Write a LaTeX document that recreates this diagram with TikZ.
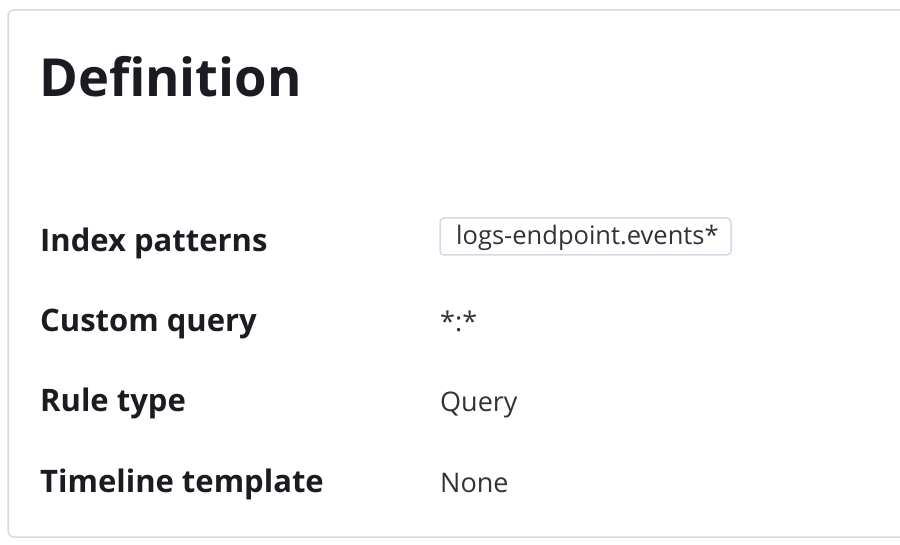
\documentclass[tikz,border=0pt]{standalone}
\usepackage{fontspec}
\setmainfont{Open Sans}
\definecolor{txt}{HTML}{1A1C21}
\definecolor{bord}{HTML}{D3DAE6}
\tikzset{lbl/.style={anchor=base west,inner sep=0pt,font=\fontsize{31}{34}\selectfont\bfseries,text=txt},
val/.style={anchor=base west,inner sep=0pt,font=\fontsize{27}{32}\selectfont,text=txt!90}}
\begin{document}
\begin{tikzpicture}[x=1pt,y=1pt]
\useasboundingbox (0,0) rectangle (900,544);
\draw[bord,line width=1.5pt,rounded corners=6pt] (8,7) rectangle (915,534);
\node[anchor=base west,inner sep=0pt,font=\fontsize{52.5}{58}\selectfont\bfseries,text=txt] (t) at (39,447) {Definition};
\node[lbl] (l1) at (40,292) {Index patterns};
\node[lbl] (l2) at (40,212) {Custom query};
\node[lbl] (l3) at (40,132) {Rule type};
\node[lbl] (l4) at (40,52) {Timeline template};
\draw[bord,line width=1.5pt,rounded corners=4pt,fill=white] (440,289) rectangle (731,326);
\node[val,font=\fontsize{25.5}{28}\selectfont] (v1) at (456,299) {logs-endpoint.events*};
\node[val] (v2) at (440,212) {*:*};
\node[val] (v3) at (440,132) {Query};
\node[val] (v4) at (440,52) {None};
\end{tikzpicture}
\end{document}
